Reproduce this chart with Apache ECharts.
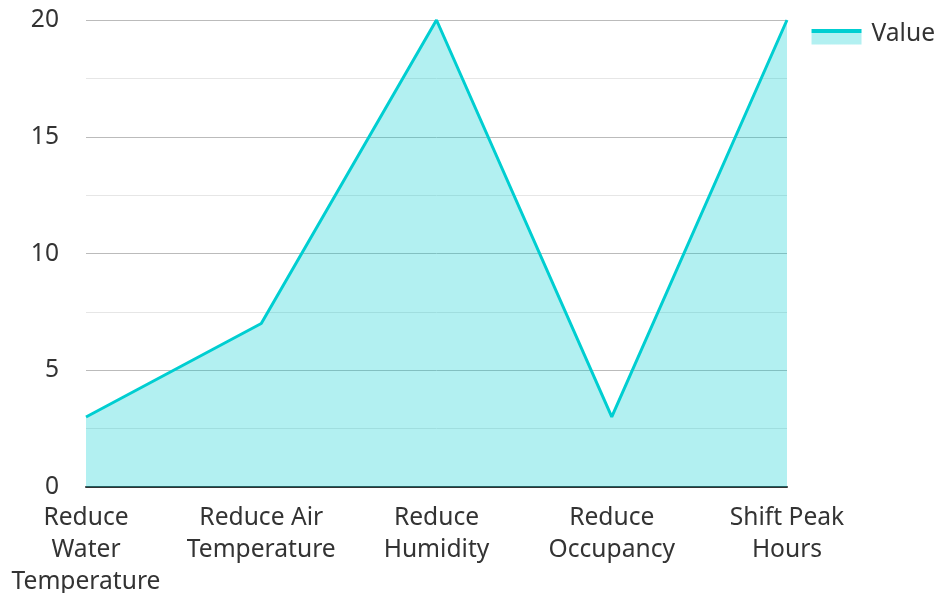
<!DOCTYPE html>
<html><head><meta charset="utf-8">
<script src="https://cdn.jsdelivr.net/npm/echarts@6/dist/echarts.min.js"></script>
<style>html,body{margin:0;padding:0;background:#fff}#c{width:936px;height:593px}</style>
</head><body><div id="c"></div>
<script>
const categories = ["Reduce\nWater\nTemperature", "Reduce Air\nTemperature", "Reduce\nHumidity", "Reduce\nOccupancy", "Shift Peak\nHours"];
const values = [3, 7, 20, 3, 20];
const seriesName = "Value";
const chart = echarts.init(document.getElementById('c'));
chart.setOption({
  animation: false,
  textStyle: { fontFamily: "Noto Sans" },
  legend: {
    right: 1, top: 21, padding: 0, itemWidth: 50, itemHeight: 22, itemGap: 10,
    icon: 'rect',
    itemStyle: {
      color: { type: 'linear', x: 0, y: 0, x2: 0, y2: 1, colorStops: [
        { offset: 0, color: 'rgba(255,255,255,0)' }, { offset: 0.318, color: 'rgba(255,255,255,0)' },
        { offset: 0.318, color: '#00CED1' }, { offset: 0.5, color: '#00CED1' },
        { offset: 0.5, color: '#b2f0f1' }, { offset: 1, color: '#b2f0f1' }] }
    },
    textStyle: { fontSize: 24.6, color: '#333', fontFamily: "Noto Sans", padding: [0, 0, 0, 5] },
    data: [seriesName]
  },
  grid: { left: 86, right: 149, top: 20, bottom: 106, outerBoundsMode: 'none', containLabel: false },
  xAxis: {
    type: 'category', boundaryGap: false, data: categories,
    axisLine: { lineStyle: { color: '#333', width: 2 } },
    axisTick: { show: false },
    axisLabel: { fontSize: 24.6, color: '#333', lineHeight: 32, margin: 15, interval: 0, fontFamily: "Noto Sans" }
  },
  yAxis: {
    type: 'value', min: 0, max: 20, interval: 5,
    axisLine: { show: false }, axisTick: { show: false },
    axisLabel: { fontSize: 24.6, color: '#333', margin: 27, fontFamily: "Noto Sans" },
    splitLine: { lineStyle: { color: '#bbb', width: 1 } },
    minorTick: { show: false, splitNumber: 2 },
    minorSplitLine: { show: true, lineStyle: { color: '#e6e6e6', width: 1 } }
  },
  series: [{
    name: seriesName, type: 'line', data: values, symbol: 'none',
    lineStyle: { color: '#00CED1', width: 3 },
    itemStyle: { color: '#00CED1' },
    areaStyle: { color: '#00CED1', opacity: 0.3 }
  }]
});
</script></body></html>
